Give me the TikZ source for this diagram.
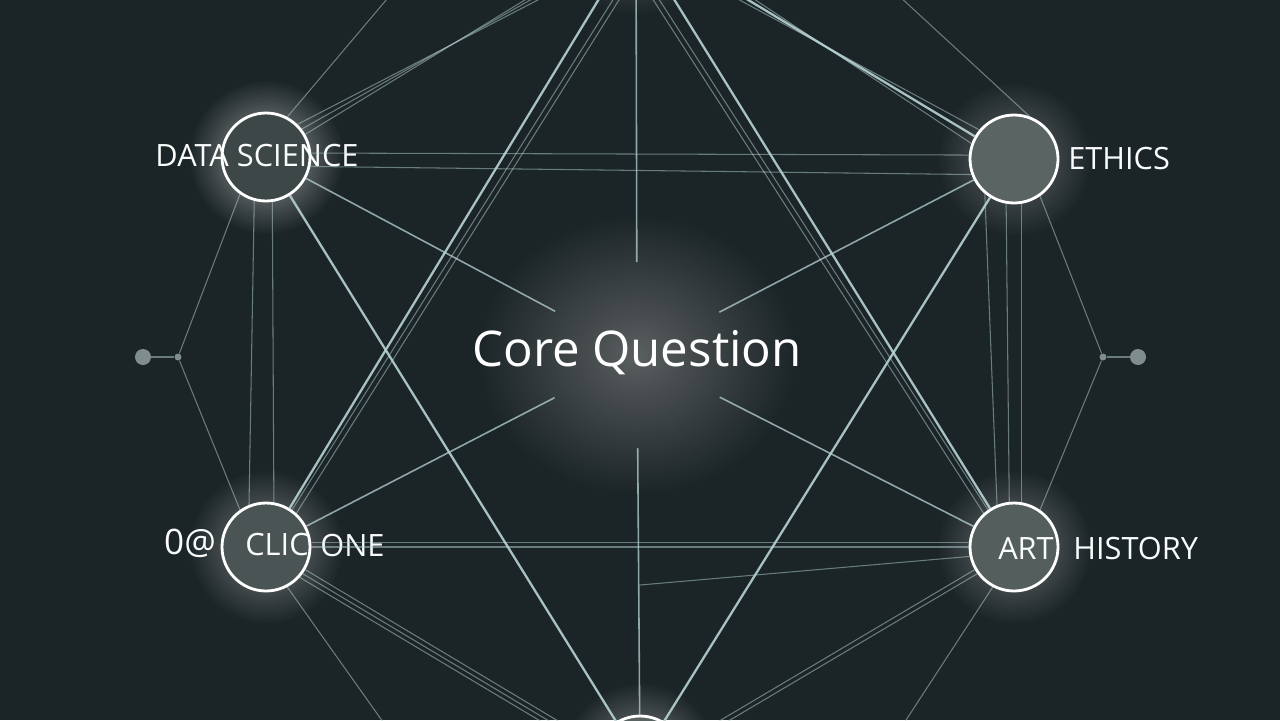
\documentclass[tikz,border=0pt]{standalone}
\usepackage{fontspec}
\setmainfont{Open Sans}
\usetikzlibrary{positioning,fadings,backgrounds}

\definecolor{bgdark}{HTML}{1B2427}
\definecolor{linkcol}{HTML}{B8D4D2}
\definecolor{topicfill}{HTML}{5A6463}
\definecolor{jointfill}{HTML}{7F8E8D}
\tikzfading[name=glowfade, inner color=transparent!0, outer color=transparent!100]

\begin{document}
\begin{tikzpicture}[
    x = 0.02cm, y = -0.02cm, % pixel grid, y downwards
    topic/.style = {circle, draw=white, line width=1.6pt, fill=topicfill,
                    minimum size=1.76cm, inner sep=0pt},
    hub/.style = {circle, minimum size=3.7cm, inner sep=0pt},
    hubtext/.style = {text=white, inner sep=0pt, font=\fontsize{28}{34}\selectfont},
    topiclabel/.style = {text=white!92!linkcol, inner sep=0pt,
                         font=\fontsize{17.5}{21}\selectfont},
    joint/.style = {circle, fill=jointfill, minimum size=#1, inner sep=0pt},
    link/.style = {draw=linkcol, line width=1.3pt, opacity=0.9},
    faint/.style = {draw=linkcol, line width=0.6pt, opacity=0.5},
    halo/.style = {fill=white, path fading=glowfade, opacity=#1}
    ]
    \useasboundingbox (0,0) rectangle (1280,720);

    % topics
    \node[hub] (core) at (637,355) {};
    \node[hubtext] (coretext) at (637,353) {Core Question};
    \node[topic, fill=topicfill!55!bgdark] (ds) at (266,157) {};
    \node[topic] (eth) at (1014,159) {};
    \node[topic, fill=topicfill!75!bgdark] (co) at (266,547) {};
    \node[topic, fill=topicfill!90!bgdark] (ah) at (1014,547) {};
    \node[topic] (apex) at (636,-62) {};
    \node[topic] (base) at (640,760) {};

    \node[joint=0.32cm] (l1) at (143,357) {};
    \node[joint=0.14cm] (l2) at (178,357) {};
    \node[joint=0.14cm] (r1) at (1103,357) {};
    \node[joint=0.32cm] (r2) at (1138,357) {};

    \coordinate (tl) at (420,-40);
    \coordinate (tr) at (860,-40);
    \coordinate (bl) at (410,760);
    \coordinate (br) at (880,760);
    \coordinate (mid) at (640,585);

    % labels
    \node[topiclabel] (dslabel) at (257,156) {DATA SCIENCE};
    \node[topiclabel, anchor=west] (ethlabel) at (1068,159) {ETHICS};
    \node[topiclabel] (artlabel) at (1026,548) {ART};
    \node[topiclabel, anchor=west] (histlabel) at (1073,548) {HISTORY};
    \node[topiclabel, font=\fontsize{20}{24}\selectfont] (oalabel) at (190,543) {0@};
    \node[topiclabel] (cliclabel) at (277,545) {CLIC};
    \node[topiclabel, anchor=west] (onelabel) at (320,545) {ONE};

    % strong links
    \path[link] (apex) edge (co)
                (apex) edge (ah)
                (ds) edge (base)
                (eth) edge (base)
                (eth.150) edge (apex.-25);

    % spokes to the core
    \path[faint, opacity=0.75, line width=0.9pt]
          (ds) edge (core) (eth) edge (core)
          (co) edge (core) (ah) edge (core)
          (apex) edge (core) (core) edge (base);

    % weak links
    \path[faint] (ds.30) edge (apex.205)
                 (ds.38) edge (apex.212)
                 (ds.46) edge (apex.220)
                 (ds.62) edge (tl)
                 (eth.140) edge (apex.-35)
                 (eth.160) edge (apex.-15)
                 (eth.70) edge (tr)
                 (ds.5) edge (eth.175)
                 (ds.-12) edge (eth.-160)
                 (apex.255) edge (co.55)
                 (apex.262) edge (co.48)
                 (apex.285) edge (ah.125)
                 (apex.278) edge (ah.132)
                 (co.6) edge (ah.174)
                 (co.0) edge (ah.180)
                 (mid) edge (ah.-168)
                 (co.-30) edge (base.160)
                 (co.-36) edge (base.166)
                 (co.-42) edge (base.172)
                 (co.-62) edge (bl)
                 (ah.-150) edge (base.22)
                 (ah.-144) edge (base.16)
                 (ah.-118) edge (br)
                 (ds.-105) edge (co.112)
                 (ds.-82) edge (co.80)
                 (eth.-80) edge (ah.80)
                 (eth.-100) edge (ah.96)
                 (eth.-130) edge (ah.112)
                 (ds.-125) edge (l2)
                 (l2) edge (co.125)
                 (l1) edge (l2)
                 (eth.-55) edge (r1)
                 (r1) edge (ah.55)
                 (r1) edge (r2);

    % glow
    \begin{scope}[on background layer]
        \fill[bgdark] (0,0) rectangle (1280,720);
        \fill[halo=0.5, fill=gray!80] (core) ellipse (3.2cm and 2.8cm);
        \foreach \n/\o in {ds/0.55, eth/0.3, co/0.4, ah/0.35, base/0.45, apex/0.25}
            \fill[halo=\o] (\n) circle (1.55cm);
    \end{scope}
\end{tikzpicture}
\end{document}
